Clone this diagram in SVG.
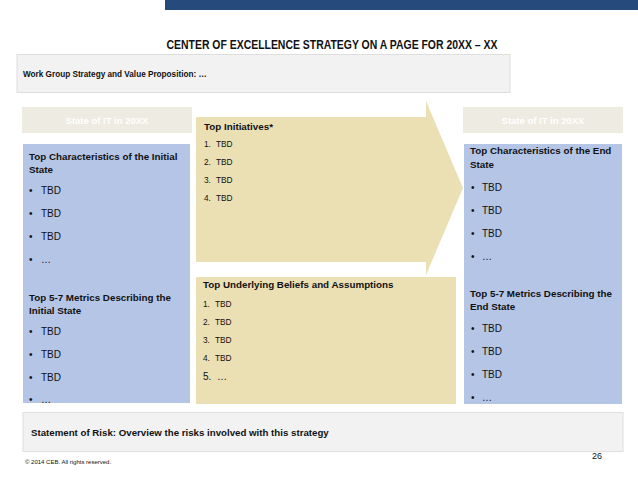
<svg xmlns="http://www.w3.org/2000/svg" width="638" height="478" viewBox="0 0 638 478">
<style>
text{font-family:"Liberation Sans",Arial,sans-serif;fill:#111}
.b{font-weight:bold}
.h{font-size:9.8px;font-weight:bold}
.li{font-size:10px}
.num{font-size:8.3px}
.hdr{font-size:9.5px;font-weight:bold;fill:#ffffff}
.gray{fill:#f2f2f2;stroke:#dedede;stroke-width:1}
.blue{fill:#b4c5e6}
.tan{fill:#ebdfb4}
.head{fill:#eeebe2}
</style>
<rect x="165" y="0" width="473" height="10" fill="#264a7c"/>
<text x="332" y="49" font-family="'DejaVu Sans Condensed','Liberation Sans',sans-serif" font-size="13.5" font-weight="bold" text-anchor="middle" textLength="331" lengthAdjust="spacingAndGlyphs">CENTER OF EXCELLENCE STRATEGY ON A PAGE FOR 20XX – XX</text>
<g id="value-prop">
<rect class="gray" x="17" y="54.5" width="493" height="38"/>
<text class="b" x="23" y="77" font-size="8.2">Work Group Strategy and Value Proposition: …</text>
</g>
<g id="header-left">
<rect class="head" x="22" y="107" width="170" height="26"/>
<text class="hdr" x="107" y="124" text-anchor="middle">State of IT in 20XX</text>
</g>
<g id="header-right">
<rect class="head" x="463" y="107" width="160" height="26"/>
<text class="hdr" x="543" y="124" text-anchor="middle">State of IT in 20XX</text>
</g>
<g id="initial-state">
<rect class="blue" x="23" y="144" width="167" height="259"/>
<text class="h" x="29" y="160">Top Characteristics of the Initial</text>
<text class="h" x="29" y="173">State</text>
<text class="li" x="29" y="194">•</text><text class="li" x="41" y="194">TBD</text>
<text class="li" x="29" y="217">•</text><text class="li" x="41" y="217">TBD</text>
<text class="li" x="29" y="240">•</text><text class="li" x="41" y="240">TBD</text>
<text class="li" x="29" y="263">•</text><text class="li" x="41" y="263">…</text>
<text class="h" x="29" y="301">Top 5-7 Metrics Describing the</text>
<text class="h" x="29" y="314">Initial State</text>
<text class="li" x="29" y="335">•</text><text class="li" x="41" y="335">TBD</text>
<text class="li" x="29" y="358">•</text><text class="li" x="41" y="358">TBD</text>
<text class="li" x="29" y="381">•</text><text class="li" x="41" y="381">TBD</text>
<text class="li" x="29" y="403">•</text><text class="li" x="41" y="403">…</text>
</g>
<g id="initiatives">
<polygon class="tan" points="196,117 426,117 426,101 463,188 426,275 426,262 196,262"/>
<text class="h" x="204" y="130">Top Initiatives*</text>
<text class="num" x="204" y="147">1.</text><text class="num" x="216" y="147">TBD</text>
<text class="num" x="204" y="165">2.</text><text class="num" x="216" y="165">TBD</text>
<text class="num" x="204" y="183">3.</text><text class="num" x="216" y="183">TBD</text>
<text class="num" x="204" y="201">4.</text><text class="num" x="216" y="201">TBD</text>
</g>
<g id="beliefs">
<rect class="tan" x="196" y="277" width="260" height="127"/>
<text class="h" x="203" y="288">Top Underlying Beliefs and Assumptions</text>
<text class="num" x="203" y="307">1.</text><text class="num" x="215" y="307">TBD</text>
<text class="num" x="203" y="325">2.</text><text class="num" x="215" y="325">TBD</text>
<text class="num" x="203" y="343">3.</text><text class="num" x="215" y="343">TBD</text>
<text class="num" x="203" y="361">4.</text><text class="num" x="215" y="361">TBD</text>
<text x="203" y="380" font-size="10">5.</text><text x="217" y="380" font-size="10">…</text>
</g>
<g id="end-state">
<rect class="blue" x="464" y="144" width="158" height="260"/>
<text class="h" x="470" y="154">Top Characteristics of the End</text>
<text class="h" x="470" y="168">State</text>
<text class="li" x="471" y="191">•</text><text class="li" x="482" y="191">TBD</text>
<text class="li" x="471" y="214">•</text><text class="li" x="482" y="214">TBD</text>
<text class="li" x="471" y="237">•</text><text class="li" x="482" y="237">TBD</text>
<text class="li" x="471" y="260">•</text><text class="li" x="482" y="260">…</text>
<text class="h" x="470" y="297">Top 5-7 Metrics Describing the</text>
<text class="h" x="470" y="310">End State</text>
<text class="li" x="471" y="332">•</text><text class="li" x="482" y="332">TBD</text>
<text class="li" x="471" y="355">•</text><text class="li" x="482" y="355">TBD</text>
<text class="li" x="471" y="378">•</text><text class="li" x="482" y="378">TBD</text>
<text class="li" x="471" y="401">•</text><text class="li" x="482" y="401">…</text>
</g>
<g id="risk">
<rect class="gray" x="23" y="412.5" width="600" height="39"/>
<text class="b" x="31" y="436" font-size="9.7">Statement of Risk: Overview the risks involved with this strategy</text>
</g>
<text x="25" y="464" font-size="6" fill="#333">© 2014 CEB. All rights reserved.</text>
<text x="602" y="459" font-size="9" text-anchor="end" fill="#333">26</text>
<g id="connectors"/>
</svg>
